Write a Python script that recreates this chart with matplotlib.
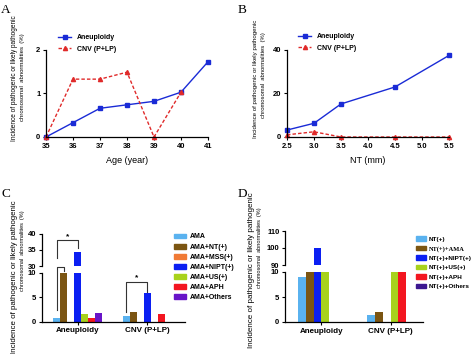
import matplotlib
matplotlib.use("Agg")
import matplotlib.pyplot as plt
from matplotlib.patches import Patch
import numpy as np

plt.rcParams['font.family'] = ['Liberation Sans', 'DejaVu Sans']
plt.rcParams['font.weight'] = 'bold'

# ---------------- data ----------------
age = [35, 36, 37, 38, 39, 40, 41]
age_aneuploidy = [0.0, 0.33, 0.66, 0.74, 0.82, 1.03, 1.73]
age_cnv = [0.0, 1.33, 1.33, 1.49, 0.0, 1.03]

nt = [2.5, 3.0, 3.5, 4.5, 5.5]
nt_aneuploidy = [3.2, 6.3, 15.2, 23.0, 37.5]
nt_cnv = [1.0, 2.4, 0.0, 0.0, 0.0]

groups = ['Aneuploidy', 'CNV (P+LP)']

c_labels = ['AMA', 'AMA+NT(+)', 'AMA+MSS(+)', 'AMA+NIPT(+)', 'AMA+US(+)', 'AMA+APH', 'AMA+Others']
c_aneuploidy = [0.8, 10.0, 0.0, 34.5, 1.5, 0.85, 1.85]
c_cnv = [1.2, 1.95, 0.0, 5.8, 0.0, 1.6, 0.0]
c_colors = ['#5ab2ef', '#7b5512', '#f07a35', '#0b1ff2', '#a8d21c', '#f31620', '#6814c8']

d_labels = ['NT(+)', 'NT(+)+AMA', 'NT(+)+NIPT(+)', 'NT(+)+US(+)', 'NT(+)+APH', 'NT(+)+Others']
d_aneuploidy = [9.1, 10.0, 99.8, 10.0, 0.0, 0.0]
d_cnv = [1.4, 1.95, 0.0, 10.0, 10.0, 0.0]
d_colors = ['#5ab2ef', '#7b5512', '#0b1ff2', '#a8d21c', '#f31620', '#3c1790']

ylab1 = 'Incidence of pathogenic or likely pathogenic'
ylab2 = 'chromosomal  abnormalities  (%)'

W, H = 474, 354
fig = plt.figure(figsize=(W / 100, H / 100), dpi=100)


def axes_px(x0, y0, x1, y1):
    return fig.add_axes([x0 / W, 1 - y1 / H, (x1 - x0) / W, (y1 - y0) / H])


def style(ax, bottom=True):
    for s in ['top', 'right']:
        ax.spines[s].set_visible(False)
    ax.spines['left'].set_linewidth(0.9)
    ax.spines['bottom'].set_linewidth(0.9)
    if not bottom:
        ax.spines['bottom'].set_visible(False)
        ax.set_xticks([])
    ax.tick_params(direction='out', length=2.5, width=0.8, labelsize=5.5, pad=1.5)


def ylabel(x1, x2, ytop1, ytop2, fs1, fs2):
    fig.text(x1 / W, 1 - ytop1 / H, ylab1, rotation=90, ha='center', va='top',
             fontsize=fs1, fontweight='normal')
    fig.text(x2 / W, 1 - ytop2 / H, ylab2, rotation=90, ha='center', va='top',
             fontsize=fs2, fontweight='normal')


def letter(x, y, s):
    fig.text(x / W, 1 - y / H, s, fontsize=9.5, fontweight='normal',
             family='Liberation Serif', ha='left', va='top')


# ---------------- panel A ----------------
axA = axes_px(46, 50, 208, 137)
axA.plot(age, age_aneuploidy, color='#1a2bd6', lw=1.0, marker='s', ms=3, clip_on=False,
         label='Aneuploidy')
axA.plot(age[:len(age_cnv)], age_cnv, color='#e02a2a', lw=1.0, ls=(0, (2.5, 1.5)), marker='^',
         ms=3, clip_on=False, label='CNV (P+LP)')
axA.set_xlim(35, 41)
axA.set_ylim(0, 2)
axA.set_xticks(age)
axA.set_yticks([0, 1, 2])
style(axA)
axA.set_xlabel('Age (year)', fontsize=6.5, labelpad=5)
axA.legend(loc='upper left', bbox_to_anchor=(55 / W, 1 - 31 / H), bbox_transform=fig.transFigure,
           frameon=False, fontsize=5, handlelength=1.8, handletextpad=0.9, borderpad=0,
           labelspacing=0.6)
ylabel(15, 23, 15, 33, 4.7, 4.3)
letter(1, 4, 'A')

# ---------------- panel B ----------------
axB = axes_px(287, 50, 449, 137)
axB.plot(nt, nt_aneuploidy, color='#1a2bd6', lw=1.0, marker='s', ms=3, clip_on=False,
         label='Aneuploidy')
axB.plot(nt, nt_cnv, color='#e02a2a', lw=1.0, ls=(0, (2.5, 1.5)), marker='^', ms=3,
         clip_on=False, label='CNV (P+LP)')
axB.set_xlim(2.5, 5.5)
axB.set_ylim(0, 40)
axB.set_xticks(np.arange(2.5, 5.51, 0.5))
axB.set_xticklabels([f'{v:.1f}' for v in np.arange(2.5, 5.51, 0.5)])
axB.set_yticks([0, 20, 40])
style(axB)
axB.set_xlabel('NT (mm)', fontsize=6.5, labelpad=5)
axB.legend(loc='upper left', bbox_to_anchor=(295 / W, 1 - 30 / H), bbox_transform=fig.transFigure,
           frameon=False, fontsize=5, handlelength=1.8, handletextpad=0.9, borderpad=0,
           labelspacing=0.6)
ylabel(256, 264, 20, 32, 4.4, 4.2)
letter(238, 4, 'B')


# ---------------- broken bar panels ----------------
def broken_bars(lower, upper, series, colors, gap):
    n = len(series[0])
    for ax in (lower, upper):
        for i in range(n):
            xs = [g * (n + gap) + i for g in range(len(series))]
            hs = [s[i] for s in series]
            ax.bar(xs, hs, width=1, align='edge', color=colors[i], linewidth=0)


# panel C
cLow = axes_px(42, 272.7, 185, 321.7)
cUp = axes_px(42, 233.7, 185, 266.3)
broken_bars(cLow, cUp, [c_aneuploidy, c_cnv], c_colors, 3)
for ax in (cLow, cUp):
    ax.set_xlim(-1.6, 18.9)
cLow.set_ylim(0, 10)
cUp.set_ylim(30, 40)
cLow.set_yticks([0, 5, 10])
cUp.set_yticks([30, 35, 40])
style(cLow)
style(cUp, bottom=False)
cLow.set_xticks([3.5, 13.5])
cLow.set_xticklabels(groups, fontsize=5.8)

# significance brackets (AMA vs AMA+NT, AMA vs AMA+NIPT, CNV AMA vs AMA+NIPT)
cLow.plot([0.5, 0.5, 1.5, 1.5], [2.4, 11.2, 11.2, 10.3], color='#333333', lw=0.8, clip_on=False)
cLow.text(1.0, 11.4, '*', ha='center', va='center', fontsize=6, clip_on=False)
cUp.plot([0.5, 0.5, 3.5, 3.5], [32.5, 38.1, 38.1, 35.6], color='#333333', lw=0.8, clip_on=False)
cUp.text(2.0, 39.2, '*', ha='center', va='center', fontsize=6, clip_on=False)
cLow.plot([10.5, 10.5, 13.5, 13.5], [2.0, 8.2, 8.2, 6.1], color='#333333', lw=0.8, clip_on=False)
cLow.text(12.0, 8.9, '*', ha='center', va='center', fontsize=6, clip_on=False)

fig.legend(handles=[Patch(color=c, label=l) for c, l in zip(c_colors, c_labels)],
           loc='upper left', bbox_to_anchor=(171 / W, 1 - 230 / H), frameon=False,
           fontsize=5, handlelength=1.6, handleheight=0.7, handletextpad=0.6,
           borderpad=0, labelspacing=0.45)
ylabel(15, 23, 200, 210, 5.7, 4.0)
letter(1, 188, 'C')

# panel D
dLow = axes_px(285, 272, 423, 322)
dUp = axes_px(285, 231, 423, 265)
broken_bars(dLow, dUp, [d_aneuploidy, d_cnv], d_colors, 3)
for ax in (dLow, dUp):
    ax.set_xlim(-1.7, 16.2)
dLow.set_ylim(0, 10)
dUp.set_ylim(90, 110)
dLow.set_yticks([0, 5, 10])
dUp.set_yticks([90, 100, 110])
style(dLow)
style(dUp, bottom=False)
dLow.set_xticks([3, 12])
dLow.set_xticklabels(groups, fontsize=5.8)

legD = fig.legend(handles=[Patch(color=c, label=l) for c, l in zip(d_colors, d_labels)],
                  loc='upper left', bbox_to_anchor=(413 / W, 1 - 233 / H), frameon=False,
                  fontsize=4.6, handlelength=1.5, handleheight=0.75, handletextpad=0.5,
                  borderpad=0, labelspacing=0.6)
legD.get_texts()[1].set_family('Liberation Serif')
ylabel(252, 260, 192, 207, 5.8, 4.0)
letter(238, 188, 'D')

fig.savefig('out.png', dpi=100)
